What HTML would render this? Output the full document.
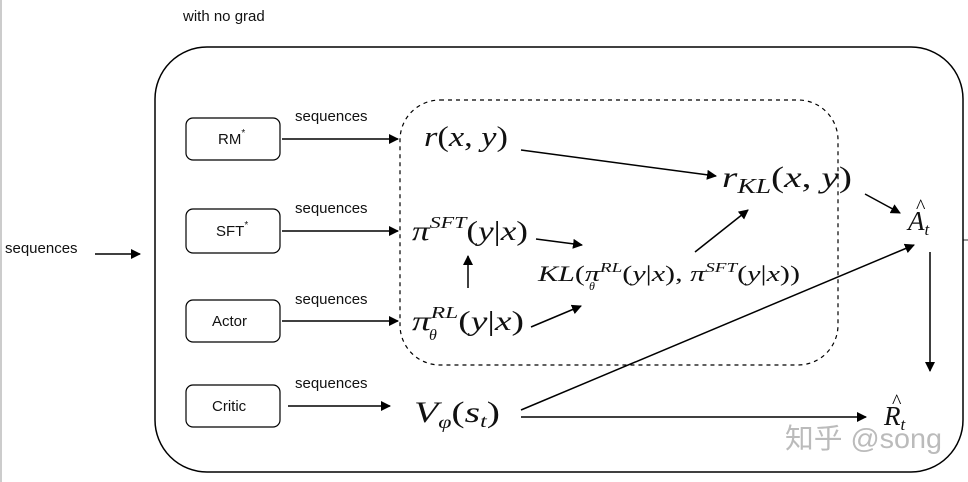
<!DOCTYPE html>
<html><head><style>
body{margin:0;background:#fff;}
svg{display:block;}
.s{font-family:"Liberation Sans",sans-serif;font-size:15px;fill:#111;}
.m{font-family:"Liberation Serif",serif;font-style:italic;fill:#111;}
.u{font-style:normal;}
</style></head><body>
<svg width="968" height="482" viewBox="0 0 968 482" xmlns="http://www.w3.org/2000/svg">
<defs><marker id="a" markerWidth="10" markerHeight="10" refX="9" refY="5" orient="auto" markerUnits="userSpaceOnUse"><path d="M0,0 L10,5 L0,10 Z" fill="#000"/></marker></defs>
<line x1="1" y1="0" x2="1" y2="482" stroke="#ccc" stroke-width="2"/>
<line x1="963" y1="240" x2="968" y2="240" stroke="#333"/>
<text x="183" y="21" class="s">with no grad</text>
<rect x="155" y="47" width="808" height="425" rx="52" fill="none" stroke="#000" stroke-width="1.5"/>
<rect x="400" y="100" width="438" height="265" rx="40" fill="none" stroke="#000" stroke-width="1.2" stroke-dasharray="4,4"/>
<text x="5" y="253" class="s">sequences</text>
<line x1="95" y1="254" x2="140" y2="254" stroke="#000" stroke-width="1.5" marker-end="url(#a)"/>
<g stroke="#000" stroke-width="1.2" fill="#fff">
<rect x="186" y="118" width="94" height="42" rx="7"/>
<rect x="186" y="209" width="94" height="44" rx="7"/>
<rect x="186" y="300" width="94" height="42" rx="7"/>
<rect x="186" y="385" width="94" height="42" rx="7"/>
</g>
<text x="218" y="144" class="s">RM<tspan font-size="10" dy="-8">*</tspan></text>
<text x="216" y="236" class="s">SFT<tspan font-size="10" dy="-8">*</tspan></text>
<text x="212" y="326" class="s">Actor</text>
<text x="212" y="411" class="s">Critic</text>
<text x="295" y="121" class="s">sequences</text>
<text x="295" y="213" class="s">sequences</text>
<text x="295" y="304" class="s">sequences</text>
<text x="295" y="388" class="s">sequences</text>
<g stroke="#000" stroke-width="1.5" marker-end="url(#a)">
<line x1="282" y1="139" x2="398" y2="139"/>
<line x1="282" y1="231" x2="398" y2="231"/>
<line x1="282" y1="321" x2="398" y2="321"/>
<line x1="288" y1="406" x2="390" y2="406"/>
<line x1="521" y1="150" x2="716" y2="176"/>
<line x1="536" y1="239" x2="582" y2="245"/>
<line x1="468" y1="288" x2="468" y2="256"/>
<line x1="531" y1="327" x2="581" y2="306"/>
<line x1="695" y1="252" x2="748" y2="210"/>
<line x1="865" y1="194" x2="900" y2="213"/>
<line x1="930" y1="252" x2="930" y2="371"/>
<line x1="521" y1="410" x2="914" y2="245"/>
<line x1="521" y1="417" x2="866" y2="417"/>
</g>
<text x="424" y="146" class="m" font-size="29" textLength="84" lengthAdjust="spacingAndGlyphs">r<tspan class="u">(</tspan>x<tspan class="u">,</tspan> y<tspan class="u">)</tspan></text>
<text x="722" y="187" class="m" font-size="30" textLength="130" lengthAdjust="spacingAndGlyphs">r<tspan font-size="21" dy="6">KL</tspan><tspan class="u" dy="-6">(</tspan>x<tspan class="u">,</tspan> y<tspan class="u">)</tspan></text>
<text x="412" y="240" class="m" font-size="27" textLength="116" lengthAdjust="spacingAndGlyphs">π<tspan font-size="17" dy="-12">SFT</tspan><tspan class="u" dy="12">(</tspan>y<tspan class="u">|</tspan>x<tspan class="u">)</tspan></text>
<text x="412" y="330" class="m" font-size="27" textLength="112" lengthAdjust="spacingAndGlyphs">π<tspan font-size="17" dy="-12">RL</tspan><tspan class="u" dy="12">(</tspan>y<tspan class="u">|</tspan>x<tspan class="u">)</tspan></text>
<text x="429" y="340" class="m" font-size="16">θ</text>
<text x="538" y="281" class="m" font-size="22" textLength="262" lengthAdjust="spacingAndGlyphs">KL<tspan class="u">(</tspan>π<tspan font-size="14" dy="-9">RL</tspan><tspan class="u" dy="9">(</tspan>y<tspan class="u">|</tspan>x<tspan class="u">),</tspan> π<tspan font-size="14" dy="-9">SFT</tspan><tspan class="u" dy="9">(</tspan>y<tspan class="u">|</tspan>x<tspan class="u">))</tspan></text>
<text x="589" y="290" class="m" font-size="12">θ</text>
<text x="414" y="422" class="m" font-size="30" textLength="86" lengthAdjust="spacingAndGlyphs">V<tspan font-size="18" dy="6">φ</tspan><tspan class="u" dy="-6">(</tspan>s<tspan font-size="18" dy="5">t</tspan><tspan class="u" dy="-5">)</tspan></text>
<text x="908" y="230" class="m" font-size="27">A<tspan font-size="17" dy="5">t</tspan></text>
<text x="916" y="213" font-size="20" font-family="Liberation Serif">^</text>
<text x="884" y="425" class="m" font-size="27">R<tspan font-size="17" dy="5">t</tspan></text>
<text x="892" y="408" font-size="20" font-family="Liberation Serif">^</text>
<text x="785" y="448" font-family="'Liberation Sans','Noto Sans CJK SC',sans-serif" font-size="28" fill="#bbb" textLength="157" lengthAdjust="spacingAndGlyphs">知乎 @song</text>
</svg>
</body></html>
